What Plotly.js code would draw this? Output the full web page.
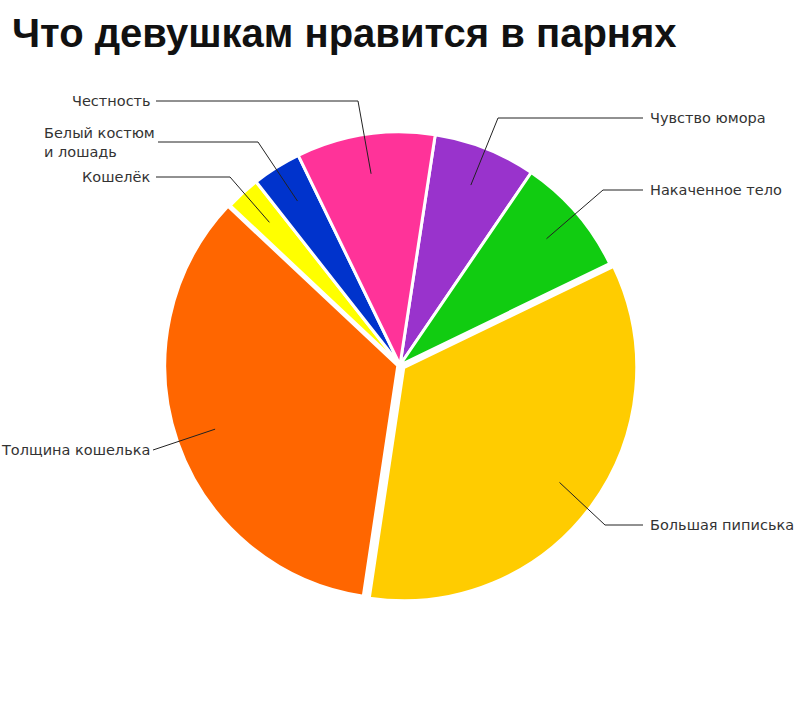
<!DOCTYPE html>
<html>
<head>
<meta charset="utf-8">
<script src="https://cdn.plot.ly/plotly-3.0.1.min.js"></script>
<style>
  html, body { margin: 0; padding: 0; background: #fff; }
  #pie { width: 800px; height: 706px; }
</style>
</head>
<body>
<div id="pie"></div>
<script>
// slices, clockwise from the top
var labels = ["Чувство юмора", "Накаченное тело", "Большая пиписька",
  "Толщина кошелька", "Кошелёк", "Белый костюм<br>и лошадь", "Честность"];
var values = [7.1, 8.3, 34.5, 34.6, 2.4, 3.4, 9.6];
var colors = ["#9933cc", "#11cc11", "#ffcc00", "#ff6600", "#ffff00", "#0033cc", "#ff3399"];
var pulls = [0, 0, 0.02, 0.01, 0, 0, 0];

// where each label sits (px): text x, y, anchor side, elbow x of leader line
var labelX = [648, 648, 648, 152, 153, 42, 153];
var labelY = [118, 190, 525, 450, 177, 142, 101];
var labelSide = ["left", "left", "left", "right", "right", "left", "right"];
var elbowX = [498, 603, 605, 153, 230, 258, 358];
var lineStartX = [643, 643, 643, 153, 156, 158, 156];

var W = 800, H = 706;
var cx = 400, cy = 365, R = 233, rotation = 8.7;
var maxPull = Math.max.apply(null, pulls);
var half = R * (1 + maxPull);

function px(x) { return x / W; }
function py(y) { return 1 - y / H; }

var data = [{
  type: "pie",
  labels: labels,
  values: values,
  sort: false,
  direction: "clockwise",
  rotation: rotation,
  pull: pulls,
  textinfo: "none",
  hoverinfo: "label+percent",
  marker: { colors: colors, line: { color: "#ffffff", width: 3 } },
  domain: { x: [px(cx - half), px(cx + half)], y: [py(cy + half), py(cy - half)] }
}];

// leader lines and labels
var total = values.reduce(function (a, b) { return a + b; }, 0);
var shapes = [];
var annotations = [];
var cum = 0;
for (var i = 0; i < values.length; i++) {
  var a0 = rotation + cum / total * 360;
  cum += values[i];
  var a1 = rotation + cum / total * 360;
  var mid = (a0 + a1) / 2 * Math.PI / 180;
  var d = 0.83 * R + pulls[i] * R;
  var ax = cx + d * Math.sin(mid);
  var ay = cy - d * Math.cos(mid);
  var path = "M" + px(lineStartX[i]) + "," + py(labelY[i]) +
    " L" + px(elbowX[i]) + "," + py(labelY[i]) +
    " L" + px(ax) + "," + py(ay);
  shapes.push({
    type: "path", xref: "paper", yref: "paper", path: path,
    line: { color: "#222", width: 1 }
  });
  annotations.push({
    xref: "paper", yref: "paper",
    x: px(labelX[i]), y: py(labelY[i]),
    xanchor: labelSide[i], yanchor: "middle", align: "left",
    text: labels[i], showarrow: false,
    font: { family: "DejaVu Sans", size: 14.5, color: "#333" }
  });
}

var layout = {
  width: W,
  height: H,
  margin: { l: 0, r: 0, t: 0, b: 0 },
  paper_bgcolor: "#fff",
  showlegend: false,
  title: {
    text: "Что девушкам нравится в парнях",
    xref: "container", yref: "container",
    x: 0.015, xanchor: "left",
    y: 1 - 33 / H, yanchor: "middle",
    font: { family: "Liberation Sans", size: 40, weight: "bold", color: "#111" }
  },
  shapes: shapes,
  annotations: annotations
};

Plotly.newPlot("pie", data, layout, { displayModeBar: false });
</script>
</body>
</html>
